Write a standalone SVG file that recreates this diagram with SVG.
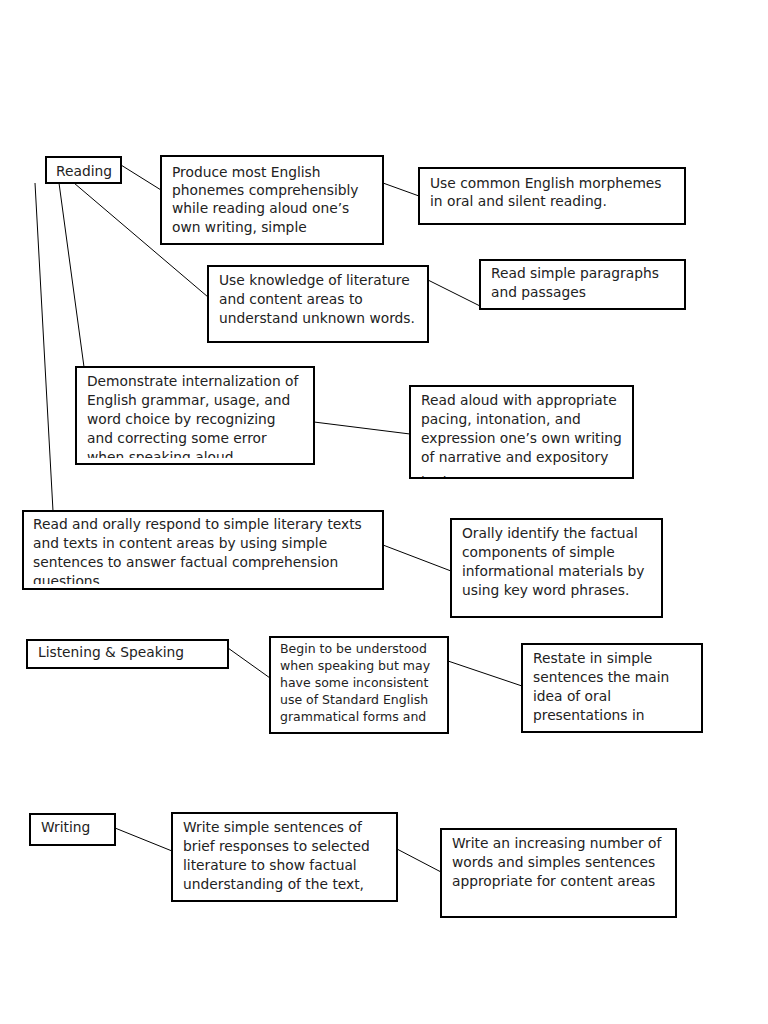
<svg xmlns="http://www.w3.org/2000/svg" width="768" height="1024" viewBox="0 0 768 1024">
<style>
.box{fill:#fff;stroke:#000;stroke-width:2}
.t{font-family:"DejaVu Sans",sans-serif;font-size:13.8px;fill:#222}
.s{font-family:"DejaVu Sans",sans-serif;font-size:12.5px;fill:#222}
.c{stroke:#000;stroke-width:1;fill:none}
</style>
<defs>
<clipPath id="clipDem"><rect x="77" y="368" width="236" height="90"/></clipPath>
<clipPath id="clipAloud"><rect x="411" y="387" width="221" height="90"/></clipPath>
<clipPath id="clipResp"><rect x="24" y="512" width="358" height="72"/></clipPath>
</defs>
<rect width="768" height="1024" fill="#fff"/>
<g id="connectors">
<line class="c" x1="121" y1="165" x2="161" y2="190"/>
<line class="c" x1="383" y1="183" x2="419" y2="196"/>
<line class="c" x1="74" y1="183" x2="208" y2="297"/>
<line class="c" x1="59" y1="183" x2="84" y2="367"/>
<line class="c" x1="35" y1="183" x2="53" y2="511"/>
<line class="c" x1="428" y1="280" x2="480" y2="306"/>
<line class="c" x1="314" y1="422" x2="410" y2="434"/>
<line class="c" x1="383" y1="545" x2="451" y2="571"/>
<line class="c" x1="228" y1="648" x2="270" y2="678"/>
<line class="c" x1="448" y1="661" x2="522" y2="686"/>
<line class="c" x1="115" y1="828" x2="172" y2="851"/>
<line class="c" x1="397" y1="849" x2="441" y2="872"/>
</g>
<g id="reading">
<rect class="box" x="46" y="157" width="75" height="26"/>
<text class="t" x="56" y="176">Reading</text>
</g>
<g id="produce">
<rect class="box" x="161" y="156" width="222" height="88"/>
<text class="t" x="172" y="177">Produce most English</text>
<text class="t" x="172" y="195">phonemes comprehensibly</text>
<text class="t" x="172" y="213">while reading aloud one’s</text>
<text class="t" x="172" y="232">own writing, simple</text>
</g>
<g id="morphemes">
<rect class="box" x="419" y="168" width="266" height="56"/>
<text class="t" x="430" y="188">Use common English morphemes</text>
<text class="t" x="430" y="206">in oral and silent reading.</text>
</g>
<g id="knowledge">
<rect class="box" x="208" y="266" width="220" height="76"/>
<text class="t" x="219" y="285">Use knowledge of literature</text>
<text class="t" x="219" y="304">and content areas to</text>
<text class="t" x="219" y="323">understand unknown words.</text>
</g>
<g id="paragraphs">
<rect class="box" x="480" y="260" width="205" height="49"/>
<text class="t" x="491" y="278">Read simple paragraphs</text>
<text class="t" x="491" y="297">and passages</text>
</g>
<g id="demonstrate">
<rect class="box" x="76" y="367" width="238" height="97"/>
<g clip-path="url(#clipDem)">
<text class="t" x="87" y="386">Demonstrate internalization of</text>
<text class="t" x="87" y="405">English grammar, usage, and</text>
<text class="t" x="87" y="424">word choice by recognizing</text>
<text class="t" x="87" y="443">and correcting some error</text>
<text class="t" x="87" y="462">when speaking aloud.</text>
</g>
</g>
<g id="aloud">
<rect class="box" x="410" y="386" width="223" height="92"/>
<g clip-path="url(#clipAloud)">
<text class="t" x="421" y="405">Read aloud with appropriate</text>
<text class="t" x="421" y="424">pacing, intonation, and</text>
<text class="t" x="421" y="443">expression one’s own writing</text>
<text class="t" x="421" y="462">of narrative and expository</text>
<text class="t" x="421" y="486">texts.</text>
</g>
</g>
<g id="respond">
<rect class="box" x="23" y="511" width="360" height="78"/>
<g clip-path="url(#clipResp)">
<text class="t" x="33" y="529">Read and orally respond to simple literary texts</text>
<text class="t" x="33" y="548">and texts in content areas by using simple</text>
<text class="t" x="33" y="567">sentences to answer factual comprehension</text>
<text class="t" x="33" y="586">questions.</text>
</g>
</g>
<g id="identify">
<rect class="box" x="451" y="519" width="211" height="98"/>
<text class="t" x="462" y="538">Orally identify the factual</text>
<text class="t" x="462" y="557">components of simple</text>
<text class="t" x="462" y="576">informational materials by</text>
<text class="t" x="462" y="595">using key word phrases.</text>
</g>
<g id="listening">
<rect class="box" x="27" y="640" width="201" height="28"/>
<text class="t" x="38" y="657">Listening &amp; Speaking</text>
</g>
<g id="begin">
<rect class="box" x="270" y="637" width="178" height="96"/>
<text class="s" x="280" y="653">Begin to be understood</text>
<text class="s" x="280" y="670">when speaking but may</text>
<text class="s" x="280" y="687">have some inconsistent</text>
<text class="s" x="280" y="704">use of Standard English</text>
<text class="s" x="280" y="721">grammatical forms and</text>
</g>
<g id="restate">
<rect class="box" x="522" y="644" width="180" height="88"/>
<text class="t" x="533" y="663">Restate in simple</text>
<text class="t" x="533" y="682">sentences the main</text>
<text class="t" x="533" y="701">idea of oral</text>
<text class="t" x="533" y="720">presentations in</text>
</g>
<g id="writing">
<rect class="box" x="30" y="814" width="85" height="31"/>
<text class="t" x="41" y="832">Writing</text>
</g>
<g id="writesimple">
<rect class="box" x="172" y="813" width="225" height="88"/>
<text class="t" x="183" y="832">Write simple sentences of</text>
<text class="t" x="183" y="851">brief responses to selected</text>
<text class="t" x="183" y="870">literature to show factual</text>
<text class="t" x="183" y="889">understanding of the text,</text>
</g>
<g id="increasing">
<rect class="box" x="441" y="829" width="235" height="88"/>
<text class="t" x="452" y="848">Write an increasing number of</text>
<text class="t" x="452" y="867">words and simples sentences</text>
<text class="t" x="452" y="886">appropriate for content areas</text>
</g>
</svg>
